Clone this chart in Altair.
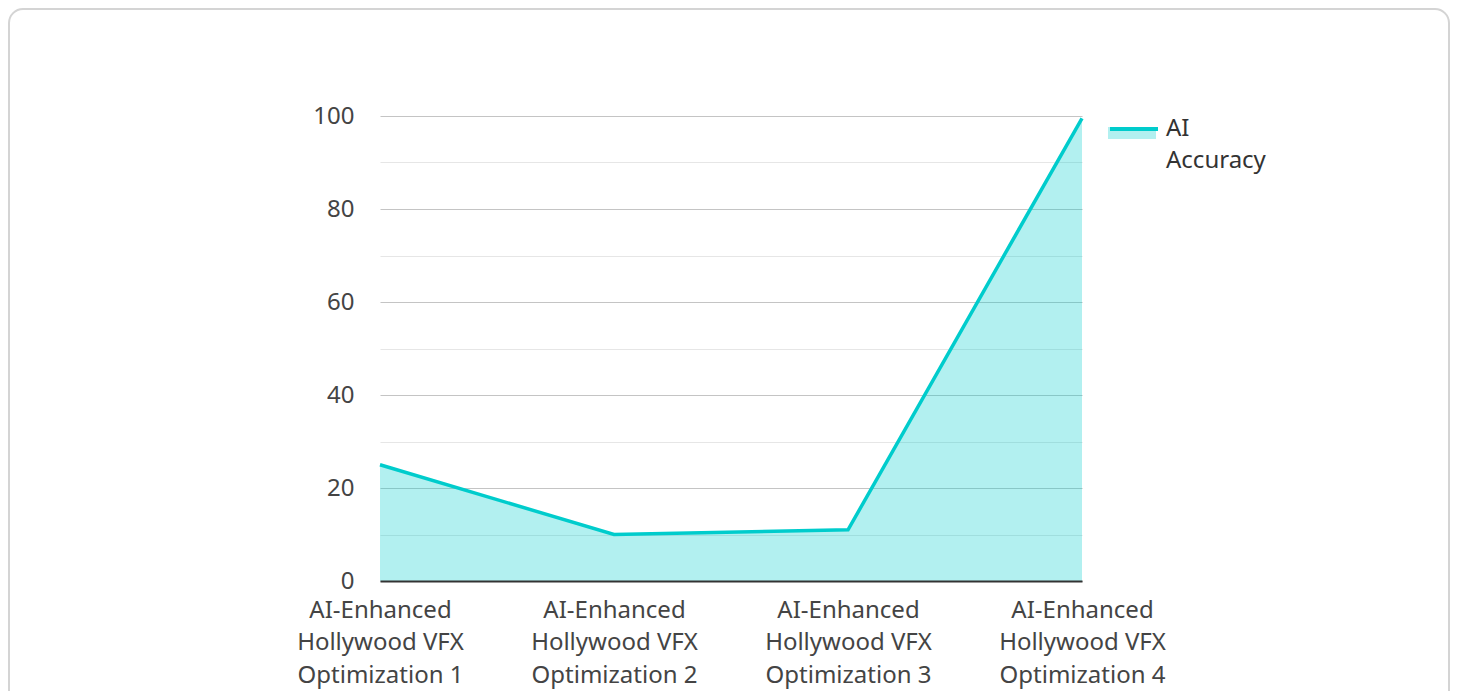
import altair as alt
import pandas as pd

categories = [
    "AI-Enhanced Hollywood VFX Optimization 1",
    "AI-Enhanced Hollywood VFX Optimization 2",
    "AI-Enhanced Hollywood VFX Optimization 3",
    "AI-Enhanced Hollywood VFX Optimization 4",
]
accuracy = [25, 10, 11, 99.5]
series_name = "AI Accuracy"
legend_lines = ["AI", "Accuracy"]
y_ticks = [0, 10, 20, 30, 40, 50, 60, 70, 80, 90, 100]

df = pd.DataFrame({
    "category": categories,
    "value": accuracy,
    "series": [series_name] * len(categories),
    "series_line": [series_name + " "] * len(categories),
})

FONT = "Noto Sans"
CYAN = "#00cccc"
FS = 24

x_enc = alt.X(
    "category:N",
    sort=categories,
    scale=alt.Scale(type="point", padding=0),
    axis=alt.Axis(
        title=None,
        labelAngle=0,
        labelExpr="[slice(datum.label,0,11), slice(datum.label,12,25), slice(datum.label,26)]",
        labelFont=FONT,
        labelFontSize=FS,
        labelLineHeight=32.5,
        labelColor="#444444",
        labelPadding=17,
        labelBaseline="top",
        labelOverlap=False,
        labelFlush=False,
        labelLimit=0,
        ticks=False,
        grid=False,
        domainColor="#333333",
        domainWidth=2,
        zindex=1,
    ),
)
y_enc = alt.Y(
    "value:Q",
    scale=alt.Scale(domain=[0, 100], nice=False),
    axis=alt.Axis(
        title=None,
        values=y_ticks,
        labelExpr="datum.value % 20 === 0 ? datum.label : ''",
        labelFont=FONT,
        labelFontSize=FS,
        labelColor="#444444",
        labelPadding=26,
        domain=False,
        ticks=False,
        grid=True,
        gridColor={"condition": {"test": "datum.value % 20 === 0", "value": "#c4c4c4"}, "value": "#e6e6e6"},
        gridWidth=1.2,
    ),
)

base = alt.Chart(df).encode(x=x_enc, y=y_enc)

legend_common = dict(
    orient="none",
    legendX=728,
    legendY=1,
    symbolSize=2304,
    labelExpr="''",
    labelOffset=0,
    labelFontSize=1,
)

area = base.mark_area(fillOpacity=0.3, interpolate="linear").encode(
    fill=alt.Fill(
        "series:N",
        scale=alt.Scale(range=[CYAN]),
        legend=alt.Legend(
            title=legend_lines,
            titleOrient="right",
            titleAnchor="start",
            titleBaseline="top",
            titleAlign="left",
            titlePadding=10,
            titleFont=FONT,
            titleFontSize=FS,
            titleFontWeight="normal",
            titleColor="#333333",
            titleLineHeight=32,
            titleLimit=0,
            symbolType="M-1,-0.583L1,-0.583L1,-0.083L-1,-0.083Z",
            symbolOpacity=0.3,
            symbolStrokeWidth=0,
            **legend_common,
        ),
    )
)

line = base.mark_line(strokeWidth=3.5, interpolate="linear").encode(
    stroke=alt.Stroke(
        "series_line:N",
        scale=alt.Scale(range=[CYAN]),
        legend=alt.Legend(
            title=None,
            symbolType="M-1,-0.583L1,-0.583",
            symbolStrokeWidth=4,
            **legend_common,
        ),
    )
)

card = alt.Chart(pd.DataFrame({"k": [0]})).mark_rect(
    fillOpacity=0, stroke="#d4d4d4", strokeWidth=2, cornerRadius=14
).encode(
    x=alt.value(-371), x2=alt.value(1069), y=alt.value(-107), y2=alt.value(640)
)

chart = alt.layer(card, area, line).properties(
    width=702,
    height=465,
    autosize=alt.AutoSizeParams(type="none"),
    padding={"left": 372, "top": 108, "right": 368, "bottom": 110},
).configure_view(stroke=None).resolve_legend(fill="independent", stroke="independent")

chart.save("out.html", embed_options={"renderer": "svg", "actions": False})
